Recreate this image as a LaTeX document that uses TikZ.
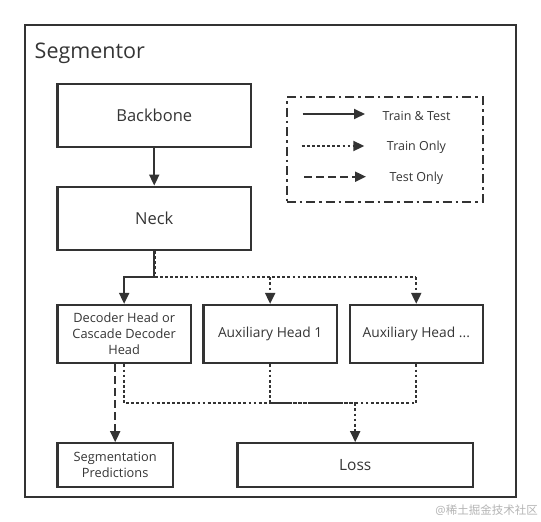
\documentclass[tikz,border=0pt]{standalone}
\usepackage{fontspec}
\setmainfont{Open Sans}
\newfontfamily\cjkfont{Noto Sans CJK SC}
\usetikzlibrary{arrows.meta,calc}
\definecolor{ink}{HTML}{333333}
\definecolor{txt}{HTML}{353535}
\definecolor{wm}{HTML}{B4B4B4}
\tikzset{
  box/.style={draw=ink, line width=2.3pt, inner sep=0pt, align=center, text=txt},
  solidline/.style={draw=ink, line width=2pt},
  dotline/.style={draw=ink, line width=2pt, dash pattern=on 2.8pt off 2.3pt},
  dashline/.style={draw=ink, line width=2pt, dash pattern=on 8pt off 4pt},
  tip/.style={-{Triangle[length=11pt,width=10pt]}},
  legtext/.style={text=txt, font=\fontsize{12.5}{14}\selectfont, inner sep=0pt}
}
\begin{document}
\begin{tikzpicture}[x=1pt,y=-1pt]
\useasboundingbox (0,0) rectangle (541,522);
% outer container
\node (segmentor) [box, minimum width=491.3pt, minimum height=471.7pt] at (270.35,260.85) {};
\node (title) [anchor=base west, inner sep=0pt, text=txt, font=\fontsize{21.5}{24}\selectfont] at (34.5,58) {Segmentor};
% main boxes
\node (backbone) [box, minimum width=193.3pt, minimum height=62.7pt, font=\fontsize{16.5}{18}\selectfont] at (154.25,115.35) {Backbone};
\node (neck) [box, minimum width=193.3pt, minimum height=63.3pt, font=\fontsize{16.5}{18}\selectfont] at (154.25,218.35) {Neck};
\node (decoder) [box, minimum width=133.1pt, minimum height=58.3pt, font=\fontsize{12.8}{16}\selectfont] at (124.15,334.15) {Decoder Head or\\Cascade Decoder\\Head};
\node (aux1) [box, minimum width=133.5pt, minimum height=58.3pt, font=\fontsize{13.8}{16}\selectfont] at (270.15,334.15) {Auxiliary Head 1};
\node (auxn) [box, minimum width=133.1pt, minimum height=58.3pt, font=\fontsize{13.8}{16}\selectfont] at (416.25,334.15) {Auxiliary Head ...};
\node (segpred) [box, minimum width=115.2pt, minimum height=43.4pt, font=\fontsize{12.8}{15.5}\selectfont] at (115.2,465) {Segmentation\\Predictions};
\node (loss) [box, minimum width=235.2pt, minimum height=43.4pt, font=\fontsize{15.5}{18}\selectfont] at (355.2,465) {Loss};
% legend
\node (legend) [draw=ink, line width=2.2pt, dash pattern=on 9pt off 4pt on 2.5pt off 4pt, minimum width=196.2pt, minimum height=104.4pt, inner sep=0pt] at (384.7,149.5) {};
\coordinate (l1a) at (302.7,114);
\coordinate (l1b) at (365,114);
\coordinate (l2a) at (301.7,146);
\coordinate (l2b) at (364.3,146);
\coordinate (l3a) at (304,176.7);
\coordinate (l3b) at (366,176.7);
\draw[solidline, tip] (l1a) -- (l1b);
\draw[dotline, tip] (l2a) -- (l2b);
\draw[dashline, tip] (l3a) -- (l3b);
\node (t1) [legtext] at (416.5,116) {Train \& Test};
\node (t2) [legtext] at (416.5,147.5) {Train Only};
\node (t3) [legtext] at (416.5,178) {Test Only};
% connectors
\coordinate (j) at (154.25,277.3);
\coordinate (m) at (355.2,403.3);
\draw[solidline, tip] (backbone.south) -- (neck.north);
\draw[solidline, tip] (neck.south) -- (j) -| (decoder.north);
\draw[dotline] ($(neck.south)+(1.2,0)$) -- ($(j)+(1.2,0)$) -- (auxn.north |- j);
\draw[dotline, tip] (aux1.north |- j) -- (aux1.north);
\draw[dotline, tip] (auxn.north |- j) -- (auxn.north);
\draw[dashline, tip] (segpred.north |- decoder.south) -- (segpred.north);
\draw[dotline] (decoder.south) |- (m);
\draw[dotline] (aux1.south) |- (m);
\draw[dotline] (auxn.south) |- (m);
\draw[dotline, tip] (m) -- (loss.north);
% watermark
\node (watermark) [anchor=east, inner sep=0pt, text=wm, font=\fontsize{11.5}{13}\selectfont] at (538,510) {@{\cjkfont 稀土掘金技术社区}};
\end{tikzpicture}
\end{document}
